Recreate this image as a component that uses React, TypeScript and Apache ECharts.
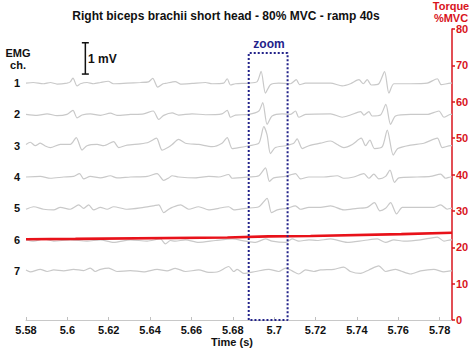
import React, { useEffect, useRef } from "react";
import * as echarts from "echarts";

// ---- Data ----
const timeTicks = { min: 5.58, max: 5.786, interval: 0.02 };
const torqueAxis = { min: 0, max: 80, interval: 10 };
const emgAxisMax = 9.3; // mV span of the plotting area
const channelNames = ["1", "2", "3", "4", "5", "6", "7"];
const channelOffsets = [7.57, 6.57, 5.57, 4.57, 3.57, 2.57, 1.57]; // mV (1 mV spacing)

// EMG traces, [time s, mV relative to channel baseline]
const ch1: number[][] = [
  [5.58, 0], [5.5835, 0.02], [5.5884, -0.02], [5.5918, 0.02], [5.595, -0.03], [5.5998, 0], [5.6014, 0.04],
  [5.6027, 0.16], [5.6047, -0.09], [5.6063, -0.02], [5.6095, 0.02], [5.6127, -0.02], [5.616, 0.02], [5.6198, 0.06],
  [5.6222, -0.02], [5.6289, 0], [5.6353, 0.02], [5.6392, 0.04], [5.6413, 0.15], [5.6437, -0.13], [5.6463, -0.02],
  [5.6474, -0.01], [5.6522, 0.05], [5.6547, -0.03], [5.6603, -0.01], [5.6668, 0.02], [5.67, -0.02], [5.6756, 0],
  [5.6773, 0.14], [5.6789, -0.06], [5.6813, -0.02], [5.6877, 0], [5.6918, 0.05], [5.6937, 0.38], [5.6958, -0.32],
  [5.6982, -0.05], [5.7022, 0], [5.7079, -0.02], [5.7107, 0.11], [5.7123, -0.05], [5.7152, 0], [5.7273, 0],
  [5.7329, -0.09], [5.7369, -0.02], [5.741, 0.11], [5.7431, -0.02], [5.745, 0.11], [5.747, -0.06], [5.7506, -0.02],
  [5.7534, 0.37], [5.7555, -0.32], [5.7579, -0.02], [5.766, -0.02], [5.774, 0], [5.7789, 0.14], [5.7808, -0.05],
  [5.7853, 0], [5.786, 0],
];
const ch2: number[][] = [
  [5.58, 0], [5.5853, -0.03], [5.5902, 0.02], [5.595, -0.04], [5.5998, 0], [5.6027, 0.13], [5.6047, -0.11],
  [5.6071, -0.02], [5.6111, 0.02], [5.616, -0.03], [5.6208, 0.04], [5.624, -0.03], [5.6305, 0], [5.6369, 0.02],
  [5.6415, 0.11], [5.6442, -0.16], [5.6466, -0.03], [5.6507, 0.05], [5.6538, -0.02], [5.6603, 0.02], [5.6668, -0.01],
  [5.6748, 0.02], [5.6773, 0.13], [5.6789, -0.09], [5.6813, -0.02], [5.6877, 0], [5.6926, 0.11], [5.6945, 0.38],
  [5.6966, -0.32], [5.699, -0.05], [5.7039, 0.02], [5.7079, 0], [5.7103, 0.11], [5.7119, -0.09], [5.7152, 0],
  [5.7273, 0.02], [5.7329, -0.09], [5.7369, -0.02], [5.7418, 0.09], [5.7434, -0.02], [5.7458, 0.09], [5.7474, -0.05],
  [5.7514, -0.02], [5.754, 0.32], [5.7563, -0.32], [5.7587, -0.05], [5.766, 0], [5.774, 0], [5.7797, 0.11],
  [5.7821, -0.09], [5.7853, 0], [5.786, 0],
];
const ch3: number[][] = [
  [5.58, 0.04], [5.5821, 0.11], [5.5845, 0], [5.5869, 0.08], [5.5893, -0.01], [5.5918, -0.06], [5.5966, 0.04],
  [5.6014, 0.04], [5.6043, 0.26], [5.6071, -0.14], [5.6095, 0], [5.6144, 0.04], [5.6176, 0], [5.6224, 0.13],
  [5.6248, -0.06], [5.6289, 0.02], [5.6353, 0.06], [5.6393, 0.11], [5.6431, 0.24], [5.6458, -0.14], [5.649, -0.04],
  [5.6507, 0.04], [5.6538, 0.2], [5.6571, 0.08], [5.6635, 0.04], [5.67, -0.03], [5.6748, 0.08], [5.6773, 0.26],
  [5.6797, -0.09], [5.6829, -0.06], [5.6877, 0], [5.6926, 0.08], [5.695, 0.61], [5.6966, 0.34], [5.6982, -0.25],
  [5.7006, -0.06], [5.7055, 0], [5.7095, 0.08], [5.7111, 0.22], [5.7136, -0.09], [5.7168, 0], [5.7224, 0.08],
  [5.7273, 0.15], [5.7305, 0.04], [5.7337, -0.06], [5.7378, 0.04], [5.7421, 0.24], [5.7442, 0], [5.7463, 0.18],
  [5.7485, -0.09], [5.7523, -0.03], [5.7547, 0.5], [5.7576, -0.3], [5.7598, -0.09], [5.766, 0.02], [5.7724, 0.08],
  [5.7789, 0.24], [5.7813, -0.06], [5.7853, 0], [5.786, 0],
];
const ch4: number[][] = [
  [5.58, 0], [5.5869, 0.02], [5.5918, -0.04], [5.5982, 0], [5.603, 0.02], [5.6059, 0.11], [5.6079, -0.06],
  [5.6111, 0.02], [5.616, -0.03], [5.6208, 0.04], [5.624, -0.03], [5.6305, 0], [5.6386, 0.02], [5.6434, 0.11],
  [5.6466, -0.11], [5.649, -0.03], [5.6507, 0.04], [5.6538, 0], [5.6619, -0.03], [5.6684, 0.02], [5.6732, 0],
  [5.678, 0.08], [5.6797, -0.04], [5.6877, 0], [5.6926, 0.04], [5.6958, 0.29], [5.6977, -0.14], [5.6998, -0.03],
  [5.7055, 0.02], [5.7103, 0.11], [5.7127, -0.06], [5.7168, 0], [5.724, 0], [5.7305, 0.04], [5.7337, -0.04],
  [5.7385, 0], [5.7434, 0.11], [5.7458, -0.04], [5.7482, 0.09], [5.7506, -0.06], [5.7539, 0.02], [5.756, 0.22],
  [5.7582, -0.17], [5.7603, -0.03], [5.7692, 0], [5.7756, 0.02], [5.7805, 0.09], [5.7829, -0.04], [5.7853, 0],
  [5.786, 0],
];
const ch5: number[][] = [
  [5.58, -0.03], [5.5837, 0.05], [5.5885, -0.03], [5.5934, -0.05], [5.5966, 0.03], [5.6014, -0.03], [5.6055, 0.11],
  [5.6079, 0], [5.6103, 0.11], [5.6127, -0.05], [5.616, 0.03], [5.6192, -0.03], [5.6224, 0.05], [5.6289, -0.03],
  [5.6369, 0.03], [5.6417, 0.08], [5.6442, 0.11], [5.6466, -0.14], [5.649, -0.03], [5.6507, 0.03], [5.6547, 0.11],
  [5.6587, -0.03], [5.6635, 0.05], [5.6684, -0.05], [5.6732, 0], [5.678, 0.05], [5.6805, -0.05], [5.6861, 0],
  [5.6926, 0.05], [5.6966, 0.32], [5.6987, -0.14], [5.7015, -0.05], [5.7063, 0], [5.7103, 0.08], [5.7127, -0.03],
  [5.7168, 0.03], [5.7224, 0.03], [5.7273, 0.08], [5.7337, -0.05], [5.7402, 0], [5.745, 0.03], [5.7485, 0.18],
  [5.7511, -0.08], [5.7539, 0], [5.7563, 0.18], [5.7592, -0.18], [5.762, 0.03], [5.7692, 0.03], [5.7772, 0.03],
  [5.7805, 0.11], [5.7837, -0.03], [5.7853, 0], [5.786, 0],
];
const ch6: number[][] = [
  [5.58, -0.01], [5.5837, -0.05], [5.5885, 0.02], [5.5934, -0.05], [5.6014, -0.01], [5.6095, -0.05], [5.616, -0.01],
  [5.6224, -0.09], [5.6305, -0.01], [5.6386, -0.05], [5.645, 0.02], [5.6474, -0.14], [5.6498, -0.03], [5.6522, -0.05],
  [5.6571, -0.01], [5.6635, -0.09], [5.6716, -0.03], [5.6797, 0.02], [5.6861, -0.05], [5.691, -0.09], [5.6958, 0.02],
  [5.699, -0.05], [5.7055, -0.09], [5.7087, 0.02], [5.7119, -0.05], [5.7168, -0.01], [5.7208, -0.03], [5.7273, 0.02],
  [5.7353, -0.09], [5.7434, -0.03], [5.7499, 0.02], [5.7539, -0.09], [5.7579, -0.01], [5.7627, -0.05], [5.7708, -0.01],
  [5.7789, 0.08], [5.7821, -0.05], [5.7853, -0.01], [5.786, -0.01],
];
const ch7: number[][] = [
  [5.58, 0.03], [5.5821, -0.03], [5.5869, 0.05], [5.5902, -0.02], [5.5934, 0.03], [5.5982, 0], [5.603, 0.05],
  [5.6079, 0.01], [5.6111, 0.09], [5.6135, -0.02], [5.616, 0.05], [5.62, 0.09], [5.624, -0.02], [5.6305, 0.01],
  [5.6369, -0.03], [5.6434, 0.05], [5.6482, 0], [5.6522, 0.08], [5.6571, -0.02], [5.6635, 0.03], [5.6684, -0.05],
  [5.6732, -0.02], [5.678, 0.14], [5.6805, -0.02], [5.6821, 0.05], [5.6853, -0.08], [5.691, -0.02], [5.6974, 0.05],
  [5.7022, -0.02], [5.7055, 0.09], [5.7087, 0], [5.7119, -0.1], [5.7152, 0.03], [5.7192, -0.02], [5.7224, 0.03],
  [5.7289, 0.05], [5.7337, 0.12], [5.7369, -0.02], [5.7418, -0.08], [5.7458, 0.03], [5.7506, 0.16], [5.7539, -0.02],
  [5.7587, 0.05], [5.7611, 0], [5.766, -0.1], [5.7708, 0], [5.7772, 0.05], [5.7821, -0.03], [5.7853, 0], [5.786, 0],
];
const emgChannels = [ch1, ch2, ch3, ch4, ch5, ch6, ch7];

// Torque (%MVC)
const torque: number[][] = [
  [5.58, 22.2], [5.6039, 22.3], [5.6774, 22.7], [5.6972, 23.0], [5.7176, 23.1], [5.7615, 23.6], [5.786, 24.0],
];

// Zoom window (time span, top in %MVC)
const zoomWindow = { start: 5.6877, end: 5.7065, top: 73.4 };

// Scale bar: 1 mV
const scaleBar = { time: 5.6087, from: 7.86, to: 8.86 };

const FONT = "'Liberation Sans', Arial, Helvetica, sans-serif";
const RED = "#d8141c";

export default function App() {
  const ref = useRef<HTMLDivElement>(null);
  useEffect(() => {
    if (!ref.current) return;
    const chart = echarts.init(ref.current, undefined, { renderer: "svg" });

    const emgSeries = emgChannels.map((ch, i) => ({
      type: "line",
      name: "EMG " + channelNames[i],
      xAxisIndex: 0,
      yAxisIndex: 1,
      data: ch.map((p) => [p[0], p[1] + channelOffsets[i]]),
      showSymbol: false,
      symbol: "none",
      smooth: 0.25,
      lineStyle: { color: "#c9c9c9", width: 1.2 },
      z: 1,
      silent: true,
    }));

    const option: any = {
      animation: false,
      backgroundColor: "#ffffff",
      grid: { left: 26, right: 22, top: 29, bottom: 35, containLabel: false },
      xAxis: {
        type: "value",
        min: timeTicks.min,
        max: timeTicks.max,
        interval: timeTicks.interval,
        axisLine: { show: true, lineStyle: { color: "#c8c8c8", width: 1 } },
        axisTick: { show: true, inside: true, length: 3, lineStyle: { color: "#c0c0c0" } },
        axisLabel: {
          show: true,
          margin: 4,
          showMaxLabel: false,
          color: "#111",
          fontFamily: FONT,
          fontWeight: "bold",
          fontSize: 11,
          formatter: (v: number) => String(+v.toFixed(2)),
        },
        splitLine: { show: false },
      },
      yAxis: [
        {
          type: "value",
          position: "right",
          min: torqueAxis.min,
          max: torqueAxis.max,
          interval: torqueAxis.interval,
          axisLine: { show: true, lineStyle: { color: RED, width: 1.5 } },
          axisTick: { show: true, inside: false, length: 3, lineStyle: { color: RED, width: 1.5 } },
          axisLabel: {
            show: true,
            margin: 4,
            color: RED,
            fontFamily: FONT,
            fontWeight: "bold",
            fontSize: 11,
          },
          splitLine: { show: false },
        },
        {
          type: "value",
          show: false,
          min: 0,
          max: emgAxisMax,
          splitLine: { show: false },
        },
      ],
      series: [
        ...emgSeries,
        {
          type: "line",
          name: "Torque",
          yAxisIndex: 0,
          data: torque,
          showSymbol: false,
          symbol: "none",
          lineStyle: { color: "#e8121a", width: 2.6 },
          z: 3,
          silent: true,
        },
        {
          type: "line",
          name: "zoom",
          yAxisIndex: 0,
          data: [
            [zoomWindow.start, 0],
            [zoomWindow.start, zoomWindow.top],
            [zoomWindow.end, zoomWindow.top],
            [zoomWindow.end, 0],
            [zoomWindow.start, 0],
          ],
          showSymbol: false,
          symbol: "none",
          lineStyle: { color: "#23238a", width: 2, type: [2, 2], cap: "butt" },
          z: 4,
          silent: true,
        },
        {
          type: "line",
          name: "scale",
          yAxisIndex: 1,
          data: [
            [scaleBar.time, scaleBar.from],
            [scaleBar.time, scaleBar.to],
          ],
          symbol: "rect",
          symbolSize: [7, 1.5],
          showSymbol: true,
          itemStyle: { color: "#111" },
          lineStyle: { color: "#111", width: 1.5 },
          z: 5,
          silent: true,
        },
      ],
    };
    chart.setOption(option);

    const chLabels = channelOffsets.map((off, i) => {
      const y = chart.convertToPixel({ yAxisIndex: 1 } as any, off) as number;
      return {
        type: "text",
        x: 17,
        y,
        style: {
          text: channelNames[i],
          font: `bold 11px ${FONT}`,
          fill: "#111",
          textAlign: "center",
          textVerticalAlign: "middle",
        },
      };
    });

    const txt = (text: string, x: number, y: number, size: number, fill: string, align = "center") => ({
      type: "text",
      x,
      y,
      style: {
        text,
        font: `bold ${size}px ${FONT}`,
        fill,
        textAlign: align,
        textVerticalAlign: "middle",
      },
    });

    chart.setOption({
      graphic: [
        txt("Right biceps brachii short head - 80% MVC - ramp 40s", 226, 16, 12, "#111"),
        txt("Torque", 451, 6, 11, RED),
        txt("%MVC", 451, 18, 11, RED),
        txt("EMG", 18, 53, 11, "#111"),
        txt("ch.", 18, 65, 11, "#111"),
        txt("1 mV", 88, 59, 12, "#111", "left"),
        txt("zoom", 269, 44, 12, "#23238a"),
        txt("Time (s)", 232, 342, 11, "#111"),
        ...chLabels,
      ],
    });

    return () => chart.dispose();
  }, []);

  return (
    <div
      ref={ref}
      style={{ position: "fixed", left: 0, top: 0, width: 474, height: 355, background: "#fff" }}
    />
  );
}
